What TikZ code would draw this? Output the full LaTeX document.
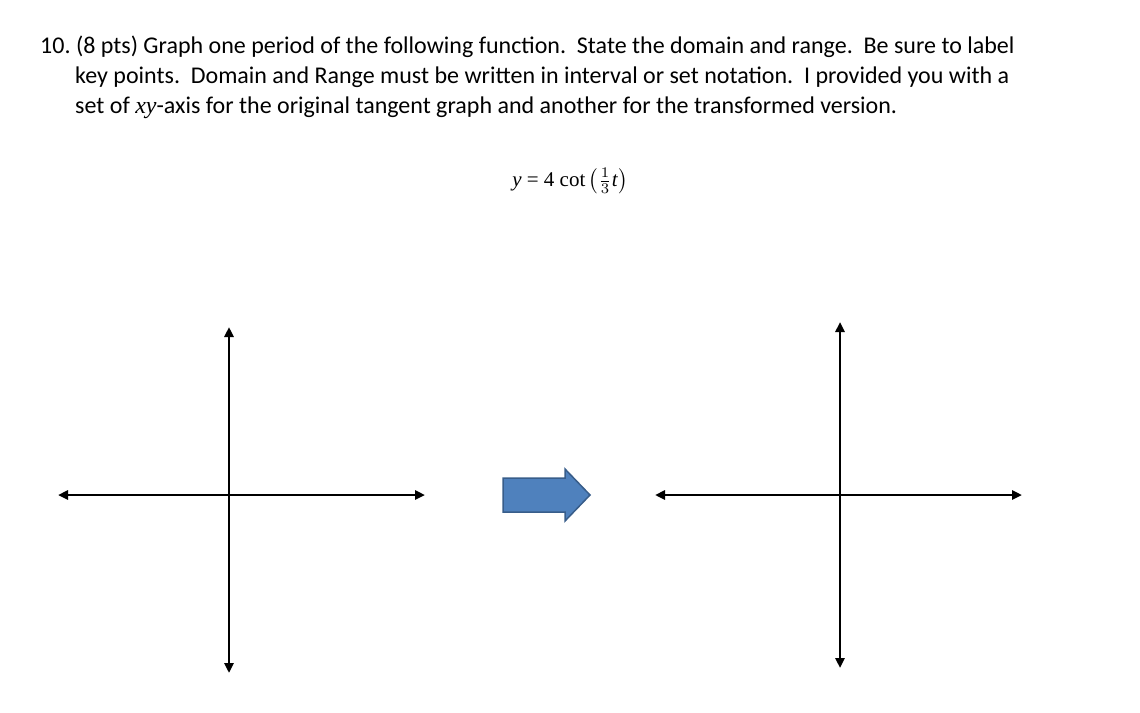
\documentclass[tikz,border=0pt]{standalone}
\usepackage{fontspec}
\setmainfont{Carlito}
\newfontfamily\serifeq{Liberation Serif}
\usetikzlibrary{arrows.meta}
\begin{document}
\begin{tikzpicture}[x=1pt,y=-1pt,
  ax/.style={line width=2.8pt,{Triangle[length=10pt,width=9pt]}-{Triangle[length=10pt,width=9pt]}},
  txt/.style={anchor=base west,inner sep=0pt,font=\fontsize{24}{28}\selectfont}]
\useasboundingbox (0,0) rectangle (1140,712);
\node[txt] (l1) at (40,53) {10.\ (8 pts) Graph one period of the following function.\ \ State the domain and range.\ \ Be sure to label};
\node[txt] (l2) at (75,83) {key points.\ \ Domain and Range must be written in interval or set notation.\ \ I provided you with a};
\node[txt] (l3) at (75,113) {set of {\serifeq\itshape xy}-axis for the original tangent graph and another for the transformed version.};
\node[inner sep=0pt] (eq) at (570,181) {\scalebox{2.1}{\serifeq\fontsize{10}{12}\selectfont\textit{y} = 4 cot\,$\left(\frac{1}{3}\mbox{\serifeq\textit{t}}\right)$}};
\coordinate (a1) at (58,495); \coordinate (a2) at (425,495);
\coordinate (a3) at (229,327); \coordinate (a4) at (229,673);
\draw[ax] (a1) -- (a2); \draw[ax] (a3) -- (a4);
\coordinate (b1) at (655,495); \coordinate (b2) at (1022,495);
\coordinate (b3) at (840,322); \coordinate (b4) at (840,668);
\draw[ax] (b1) -- (b2); \draw[ax] (b3) -- (b4);
\draw[fill={rgb,255:red,79;green,129;blue,189},draw={rgb,255:red,56;green,93;blue,138},line width=1.5pt]
 (503,478) -- (565,478) -- (565,469) -- (590,495) -- (565,521) -- (565,512) -- (503,512) -- cycle;
\end{tikzpicture}
\end{document}
